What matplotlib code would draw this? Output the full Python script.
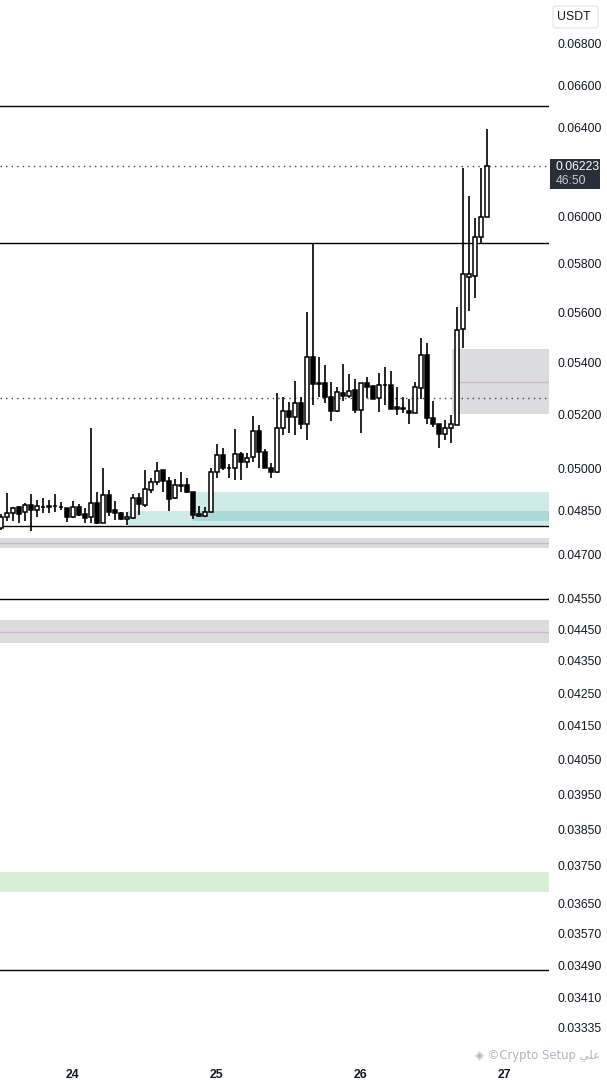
import matplotlib
matplotlib.use('Agg')
import matplotlib.pyplot as plt
from matplotlib.patches import Rectangle, FancyBboxPatch
from matplotlib.ticker import NullLocator, FixedLocator, FixedFormatter

plt.rcParams['font.family'] = ['Liberation Sans', 'DejaVu Sans']

# ---------------- data (hourly candles, hour 0 = day 24 00:00) ----------------
opens = [0.04789, 0.04827, 0.04841, 0.04862, 0.04844, 0.04869, 0.04851, 0.04862, 0.04864, 0.04866,
         0.04864, 0.04859, 0.04829, 0.04863, 0.04838, 0.04827, 0.04876, 0.04808, 0.04904, 0.04852,
         0.04841, 0.04820, 0.04823, 0.04894, 0.04871, 0.04922, 0.04951, 0.04995, 0.04956, 0.04896,
         0.04941, 0.04941, 0.04916, 0.04840, 0.04832, 0.04844, 0.04987, 0.05048, 0.05001, 0.05001,
         0.05052, 0.05025, 0.05041, 0.05137, 0.05062, 0.05001, 0.04987, 0.05148, 0.05212, 0.05189,
         0.05242, 0.05163, 0.05420, 0.05316, 0.05318, 0.05265, 0.05214, 0.05282, 0.05271, 0.05294,
         0.05216, 0.05318, 0.05308, 0.05262, 0.05311, 0.05314, 0.05229, 0.05222, 0.05213, 0.05204,
         0.05301, 0.05428, 0.05186, 0.05163, 0.05126, 0.05148, 0.05160, 0.05531, 0.05746, 0.05750,
         0.05914, 0.06001]
highs = [0.04838, 0.04912, 0.04864, 0.04866, 0.04876, 0.04908, 0.04888, 0.04894, 0.04888, 0.04909,
         0.04881, 0.04861, 0.04884, 0.04872, 0.04858, 0.05148, 0.04915, 0.05001, 0.04923, 0.04884,
         0.04846, 0.04846, 0.04909, 0.04911, 0.04995, 0.04965, 0.05024, 0.04996, 0.04969, 0.04963,
         0.04988, 0.04965, 0.04917, 0.04866, 0.04864, 0.05001, 0.05090, 0.05074, 0.05016, 0.05144,
         0.05059, 0.05056, 0.05194, 0.05160, 0.05070, 0.05019, 0.05280, 0.05265, 0.05246, 0.05328,
         0.05267, 0.05600, 0.05887, 0.05419, 0.05390, 0.05325, 0.05306, 0.05394, 0.05354, 0.05334,
         0.05319, 0.05344, 0.05309, 0.05357, 0.05383, 0.05366, 0.05306, 0.05267, 0.05257, 0.05325,
         0.05495, 0.05475, 0.05251, 0.05164, 0.05179, 0.05198, 0.05620, 0.06215, 0.06091, 0.05994,
         0.06218, 0.06393]
lows = [0.04783, 0.04815, 0.04815, 0.04807, 0.04815, 0.04780, 0.04827, 0.04841, 0.04841, 0.04846,
        0.04852, 0.04811, 0.04826, 0.04832, 0.04806, 0.04808, 0.04803, 0.04806, 0.04831, 0.04817,
        0.04817, 0.04800, 0.04821, 0.04835, 0.04864, 0.04911, 0.04941, 0.04917, 0.04850, 0.04891,
        0.04917, 0.04913, 0.04820, 0.04829, 0.04827, 0.04844, 0.04965, 0.04995, 0.04965, 0.04959,
        0.04959, 0.05003, 0.05025, 0.05003, 0.05001, 0.04965, 0.04986, 0.05123, 0.05130, 0.05123,
        0.05144, 0.05105, 0.05236, 0.05267, 0.05244, 0.05175, 0.05210, 0.05252, 0.05261, 0.05204,
        0.05132, 0.05261, 0.05257, 0.05210, 0.05236, 0.05222, 0.05198, 0.05204, 0.05163, 0.05204,
        0.05257, 0.05163, 0.05152, 0.05074, 0.05105, 0.05093, 0.05159, 0.05455, 0.05606, 0.05656,
        0.05886, 0.06001]
closes = [0.04829, 0.04841, 0.04858, 0.04839, 0.04869, 0.04851, 0.04865, 0.04863, 0.04866, 0.04865,
          0.04862, 0.04829, 0.04863, 0.04835, 0.04825, 0.04876, 0.04806, 0.04904, 0.04846, 0.04843,
          0.04820, 0.04828, 0.04894, 0.04874, 0.04926, 0.04952, 0.04991, 0.04956, 0.04892, 0.04941,
          0.04939, 0.04917, 0.04835, 0.04832, 0.04844, 0.04987, 0.05048, 0.05001, 0.05002, 0.05052,
          0.05025, 0.05038, 0.05137, 0.05062, 0.05001, 0.04987, 0.05148, 0.05212, 0.05189, 0.05242,
          0.05163, 0.05420, 0.05316, 0.05318, 0.05265, 0.05214, 0.05284, 0.05271, 0.05290, 0.05217,
          0.05319, 0.05306, 0.05260, 0.05311, 0.05312, 0.05222, 0.05222, 0.05223, 0.05204, 0.05304,
          0.05428, 0.05188, 0.05163, 0.05126, 0.05148, 0.05163, 0.05528, 0.05756, 0.05757, 0.05912,
          0.06001, 0.06223]
first_hour = -12
hours = list(range(first_hour, first_hour + len(opens)))

# horizontal levels
solid_levels = [0.06502, 0.05888, 0.04797, 0.04550, 0.03478]
dotted_levels = [0.06223, 0.05262]
last_price = "0.06223"
countdown = "46:50"

# zones: (start hour, low, high)
teal_zones = [(9.2, 0.04797, 0.04849), (20.0, 0.04814, 0.04916)]
gray_box = (63.3, 0.05202, 0.05452, 0.05324)
gray_bands = [(0.04721, 0.04755, 0.04738), (0.04407, 0.04481, 0.04442)]
green_band = (0.03680, 0.03734)

ytick_vals = [0.068, 0.066, 0.064, 0.060, 0.058, 0.056, 0.054, 0.052, 0.050, 0.0485, 0.047,
              0.0455, 0.0445, 0.0435, 0.0425, 0.0415, 0.0405, 0.0395, 0.0385, 0.0375, 0.0365,
              0.0357, 0.0349, 0.0341, 0.03335]
xtick_hours = [0, 24, 48, 72]
xtick_labels = ['24', '25', '26', '27']

# ---------------- figure ----------------
W, H = 607, 1080
fig = plt.figure(figsize=(W / 100, H / 100), dpi=100)
ax = fig.add_axes([0, 28 / H, 549 / W, 1052 / H])
ax.set_yscale('log')
XMAX = 79.4
ax.set_xlim(-12.1, XMAX)
ax.set_ylim(0.032773, 0.070201)
for s in ax.spines.values():
    s.set_visible(False)

# zones
teal = (38 / 255, 166 / 255, 154 / 255, 0.22)
for x0, lo, hi in teal_zones:
    ax.add_patch(Rectangle((x0, lo), XMAX - x0, hi - lo, facecolor=teal, edgecolor='none', zorder=1))
x0, lo, hi, mid = gray_box
ax.add_patch(Rectangle((x0, lo), XMAX - x0, hi - lo, facecolor='#dcdcdf', edgecolor='none', zorder=1))
ax.plot([x0 + 0.6, XMAX], [mid, mid], color='#cdb8cf', lw=1, zorder=1.5)
for lo, hi, mid in gray_bands:
    ax.axhspan(lo, hi, color='#dcdcdf', zorder=1, lw=0)
    ax.axhline(mid, color='#cdb8cf', lw=1, zorder=1.5)
ax.axhspan(green_band[0], green_band[1], color='#d8eed6', zorder=1, lw=0)

for lv in solid_levels:
    ax.axhline(lv, color='black', lw=1, zorder=2)
for lv in dotted_levels:
    ax.axhline(lv, color='#444444', lw=1, ls=(0, (1, 3)), zorder=2)

# candles
bw = 0.68
for h, o, hi, lo, c in zip(hours, opens, highs, lows, closes):
    ax.vlines(h, lo, hi, color='black', lw=1.2, zorder=3)
    bottom = min(o, c)
    height = max(abs(c - o), 1e-7)
    fc = 'white' if c >= o else 'black'
    ax.bar(h, height, bottom=bottom, width=bw, color=fc, edgecolor='black', linewidth=1.1, zorder=4)

# axes ticks
ax.yaxis.tick_right()
ax.yaxis.set_major_locator(FixedLocator(ytick_vals))
ax.yaxis.set_major_formatter(FixedFormatter([f'{v:.5f}' for v in ytick_vals]))
ax.yaxis.set_minor_locator(NullLocator())
ax.tick_params(axis='y', length=0, pad=6, labelsize=8.8, labelcolor='#131722')
ax.set_xticks(xtick_hours)
ax.set_xticklabels(xtick_labels, fontweight='bold')
ax.tick_params(axis='x', length=0, pad=12, labelsize=8.8, labelcolor='#131722')

# last price tag
fig.patches.append(Rectangle((550 / W, (H - 189) / H), 50 / W, 30 / H, transform=fig.transFigure,
                             facecolor='#2a2e39', edgecolor='none'))
fig.text(556 / W, (H - 167) / H, last_price, color='white', fontsize=8.8, va='center', ha='left')
fig.text(556 / W, (H - 181) / H, countdown, color='#c8cad0', fontsize=8.8, va='center', ha='left')

# currency box
fig.patches.append(FancyBboxPatch((553 / W, (H - 28) / H), 45 / W, 22 / H, transform=fig.transFigure,
                                  boxstyle='round,pad=0,rounding_size=0.004', facecolor='white',
                                  edgecolor='#e0e3eb', lw=0.8))
fig.text(557 / W, (H - 17) / H, 'USDT', color='#131722', fontsize=8.8, va='center', ha='left')

# watermark
fig.text(475 / W, (H - 1055) / H, '\u25C8 \u00A9Crypto Setup \uFEF2\uFEE0\uFECB', color='#b2b5be',
         fontsize=8.4, va='center', ha='left', family=['DejaVu Sans'])

fig.savefig('out.png', dpi=100)
